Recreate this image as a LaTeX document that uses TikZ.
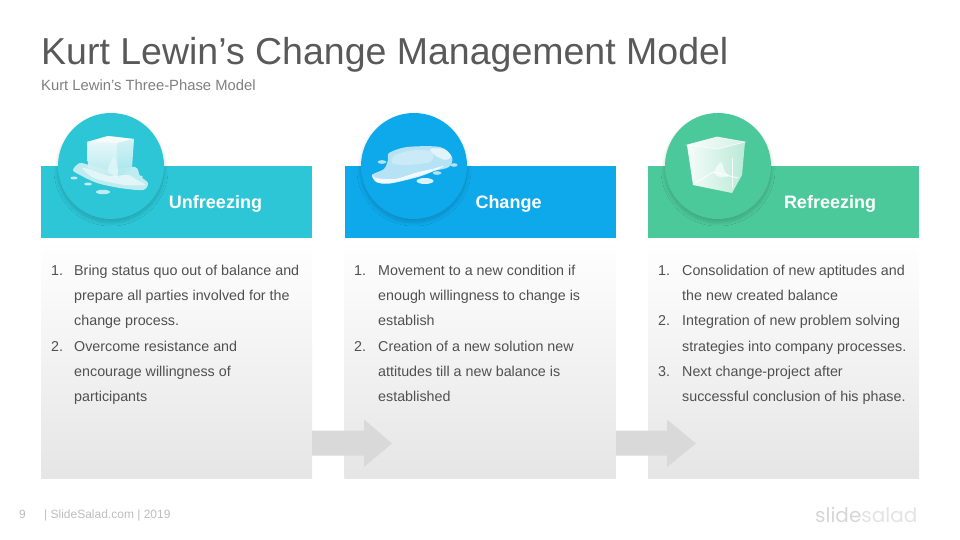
\documentclass[tikz,border=0pt]{standalone}
\usepackage{fontspec}
\setmainfont{Liberation Sans}
\newfontfamily\logofont{Poppins}
\usetikzlibrary{shadows.blur}
\definecolor{tealbar}{HTML}{2CC6D6}
\definecolor{bluebar}{HTML}{0EA9EB}
\definecolor{greenbar}{HTML}{4CC99B}
\definecolor{titlegray}{HTML}{595959}
\definecolor{subgray}{HTML}{7F7F7F}
\definecolor{bodygray}{HTML}{505050}
\definecolor{footgray}{HTML}{BDBDBD}
\definecolor{arrowgray}{HTML}{D9D9D9}
\definecolor{ice}{HTML}{BFECF0}
\definecolor{pool}{HTML}{B5E2F5}
\tikzset{
 headbar/.style={minimum width=271pt,minimum height=72pt,inner sep=0pt,anchor=north west},
 bodybox/.style={minimum width=271pt,minimum height=240pt,inner sep=0pt,anchor=north west,top color=white,bottom color=black!10,middle color=black!5,shading angle=0},
 badge/.style={circle,minimum size=106pt,inner sep=0pt,blur shadow={shadow xshift=0pt,shadow yshift=-3pt,shadow blur steps=30,shadow blur radius=4pt,shadow opacity=20}},
 headtext/.style={text=white,font=\fontsize{18}{20}\selectfont\bfseries,inner sep=0pt},
 listtext/.style={text=bodygray,font=\fontsize{14.3}{16}\selectfont,anchor=base west,inner sep=0pt},
 footnote/.style={text=footgray,font=\fontsize{12}{14}\selectfont,anchor=base west,inner sep=0pt},
 flowarrow/.style={fill=arrowgray,draw=none},
}
\begin{document}
\begin{tikzpicture}[x=1pt,y=-1pt]
 \useasboundingbox (0,0) rectangle (960,540);
 % title
 \node[text=titlegray,font=\fontsize{37.5}{42}\selectfont,anchor=base west,inner sep=0pt] (title) at (41,65) {Kurt Lewin’s Change Management Model};
 \node[text=subgray,font=\fontsize{14.8}{16}\selectfont,anchor=base west,inner sep=0pt] (subtitle) at (41,91) {Kurt Lewin's Three-Phase Model};
 % text boxes
 \node[bodybox] (boxa) at (41,238) {};
 \node[bodybox] (boxb) at (344.5,238) {};
 \node[bodybox] (boxc) at (648,238) {};
 % header bars
 \node[headbar,fill=tealbar] (bara) at (41,166) {};
 \node[headbar,fill=bluebar] (barb) at (344.5,166) {};
 \node[headbar,fill=greenbar] (barc) at (648,166) {};
 \node[headtext] (heada) at (215.5,204) {Unfreezing};
 \node[headtext] (headb) at (508.5,204) {Change};
 \node[headtext] (headc) at (830,204) {Refreezing};
 % badges
 \node[badge,fill=tealbar] (circa) at (111,166) {};
 \node[badge,fill=bluebar] (circb) at (414,166) {};
 \node[badge,fill=greenbar] (circc) at (718,166) {};
 % melting cube
 \fill[ice] plot[smooth cycle] coordinates {(73,170) (80,163) (92,166) (110,170) (135,167) (140,176) (148,183) (143,190) (120,188) (97,183) (80,175)};
 \shade[top color=white,bottom color=ice,opacity=.92] (87,142)--(108,136)--(134,139)--(132,168)--(118,178)--(88,168)--cycle;
 \fill[white,opacity=.55] (87,142)--(108,136)--(134,139)--(117,143)--cycle;
 \fill[tealbar,opacity=.12] (117,143)--(134,139)--(132,168)--(118,178)--cycle;
 \fill[white,opacity=.55] plot[smooth cycle] coordinates {(82,168) (92,170) (110,176) (128,175) (137,180) (145,185) (125,185) (104,181) (92,177)};
 \fill[white,opacity=.4] plot[smooth cycle] coordinates {(108,170) (114,157) (118,170) (116,177)};
 \fill[ice] (74,178) ellipse (3.5 and 1.5);
 \fill[ice] (88,184) ellipse (4 and 1.5);
 \fill[ice] (139,177) ellipse (4 and 1.5);
 \fill[ice] (103,192) ellipse (7 and 2.2);
 % puddle
 \fill[pool] plot[smooth cycle] coordinates {(372,175) (384,169) (388,160) (389,153) (407,147) (440,147) (452,157) (449,167) (433,171) (420,175) (390,183) (377,182)};
 \fill[white,opacity=.85] plot[smooth cycle] coordinates {(372,174) (376,178) (395,179) (415,173) (432,169) (444,166) (434,171) (418,177) (390,183.5) (376,182)};
 \fill[white,opacity=.6] plot[smooth cycle] coordinates {(430,149) (444,149) (451,156) (446,160) (436,156)};
 \fill[white,opacity=.3] plot[smooth cycle] coordinates {(395,155) (415,150) (432,152) (430,162) (405,165) (392,163)};
 \fill[pool] (382,162) ellipse (4.5 and 1.8);
 \fill[pool] (454,165) ellipse (3.5 and 1.8);
 \fill[white,opacity=.85] (425,181) ellipse (8.5 and 3);
 \fill[pool] (437,173) ellipse (4.5 and 1.8);
 % frozen cube
 \shade[left color=white,middle color=greenbar!55!white,right color=greenbar!35!white,opacity=.95] (687,145)--(717,137)--(745,142)--(742,175)--(732,193)--(693,185)--cycle;
 \fill[white,opacity=.35] (687,145)--(717,137)--(745,142)--(717,149)--cycle;
 \draw[white,opacity=.7,line width=.8pt] (687,145)--(717,137)--(745,142)--(717,149)--cycle;
 \draw[white,opacity=.8,line width=1pt] (695,183)--(713,172)--(738,178);
 \draw[white,opacity=.8,line width=1pt] (732,158)--(732,188);
 \fill[white,opacity=.65] plot[smooth cycle] coordinates {(714,172) (721,162) (725,172) (729,176) (720,177)};
 % list one
 \node[listtext] (a1) at (51,275) {1.};
 \node[listtext] (a1a) at (74,275) {Bring status quo out of balance and};
 \node[listtext] (a1b) at (74,300) {prepare all parties involved for the};
 \node[listtext] (a1c) at (74,325) {change process.};
 \node[listtext] (a2) at (51,351) {2.};
 \node[listtext] (a2a) at (74,351) {Overcome resistance and};
 \node[listtext] (a2b) at (74,376) {encourage willingness of};
 \node[listtext] (a2c) at (74,401) {participants};
 % list two
 \node[listtext] (b1) at (354,275) {1.};
 \node[listtext] (b1a) at (378,275) {Movement to a new condition if};
 \node[listtext] (b1b) at (378,300) {enough willingness to change is};
 \node[listtext] (b1c) at (378,325) {establish};
 \node[listtext] (b2) at (354,351) {2.};
 \node[listtext] (b2a) at (378,351) {Creation of a new solution new};
 \node[listtext] (b2b) at (378,376) {attitudes till a new balance is};
 \node[listtext] (b2c) at (378,401) {established};
 % list three
 \node[listtext] (c1) at (658,275) {1.};
 \node[listtext] (c1a) at (682,275) {Consolidation of new aptitudes and};
 \node[listtext] (c1b) at (682,300) {the new created balance};
 \node[listtext] (c2) at (658,325) {2.};
 \node[listtext] (c2a) at (682,325) {Integration of new problem solving};
 \node[listtext] (c2b) at (682,351) {strategies into company processes.};
 \node[listtext] (c3) at (658,376) {3.};
 \node[listtext] (c3a) at (682,376) {Next change-project after};
 \node[listtext] (c3b) at (682,401) {successful conclusion of his phase.};
 % arrows
 \fill[flowarrow] (312,430.5)--(364,430.5)--(364,419.5)--(392,443.5)--(364,467)--(364,455.5)--(312,455.5)--cycle;
 \fill[flowarrow] (616,430.5)--(667,430.5)--(667,419.5)--(696,443.5)--(667,467)--(667,455.5)--(616,455.5)--cycle;
 % footer
 \node[footnote] (pagenum) at (19,518) {9};
 \node[footnote] (footer) at (44,518) {| SlideSalad.com | 2019};
 \node[anchor=base west,inner sep=0pt,font=\logofont\fontsize{20}{24}\selectfont] (logo) at (815,522) {\textcolor{black!16}{slide}\textcolor{black!11}{salad}};
\end{tikzpicture}
\end{document}
